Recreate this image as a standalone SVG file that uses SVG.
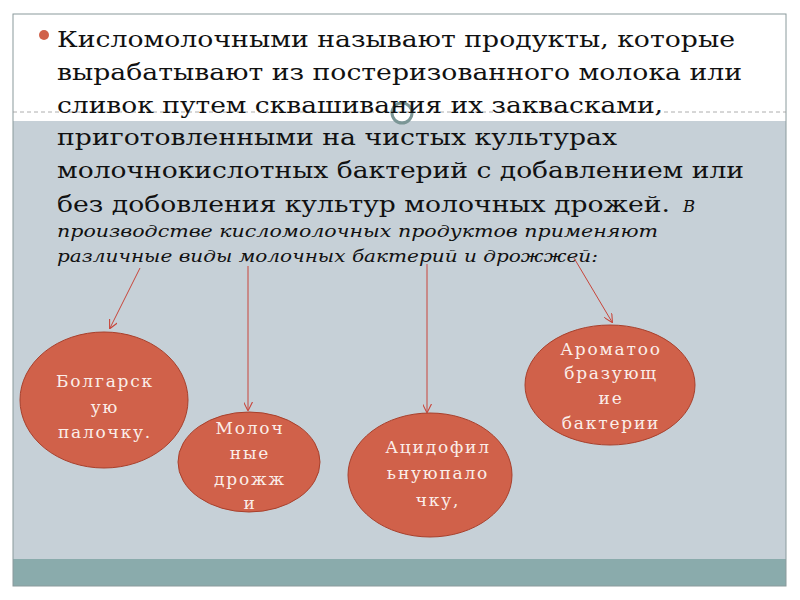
<svg xmlns="http://www.w3.org/2000/svg" width="800" height="600" viewBox="0 0 800 600">
<defs>
<style>
.main{font-family:"DejaVu Serif",serif;font-size:23px;fill:#111}
.it{font-family:"DejaVu Serif",serif;font-style:italic;font-size:16.5px;fill:#111}
.node ellipse{fill:#d0614a;stroke:#a8402c;stroke-width:1}
.node text{font-family:"DejaVu Serif",serif;font-size:17px;letter-spacing:1.8px;fill:#fbeee9;text-anchor:middle}
.conn line{stroke:#c8453a;stroke-width:1;marker-end:url(#ah)}
</style>
<marker id="ah" viewBox="0 0 10 10" refX="9" refY="5" markerWidth="9" markerHeight="9" orient="auto" markerUnits="userSpaceOnUse"><path d="M0,0 L10,5 L0,10" fill="none" stroke="#c8453a" stroke-width="1.2"/></marker>
</defs>
<rect width="800" height="600" fill="#fff"/>
<rect x="13" y="121" width="773" height="440" fill="#c6d0d7"/>
<rect x="13" y="559" width="773" height="27" fill="#8aabac"/>
<rect x="13" y="14" width="773" height="572" fill="none" stroke="#8a9a9c" stroke-width="1"/>
<line x1="13" y1="112" x2="786" y2="112" stroke="#999" stroke-dasharray="4,3" stroke-width="0.8"/>
<circle cx="402" cy="113" r="10" fill="none" stroke="#7b9696" stroke-width="3"/>
<circle cx="44" cy="35" r="5" fill="#d0614a"/>
<text class="main" x="57" y="47" textLength="678" lengthAdjust="spacingAndGlyphs">Кисломолочными называют продукты, которые</text>
<text class="main" x="57" y="80" textLength="685" lengthAdjust="spacingAndGlyphs">вырабатывают из постеризованного молока или</text>
<text class="main" x="57" y="113" textLength="606" lengthAdjust="spacingAndGlyphs">сливок путем сквашивания их заквасками,</text>
<text class="main" x="57" y="145" textLength="560" lengthAdjust="spacingAndGlyphs">приготовленными на чистых культурах</text>
<text class="main" x="57" y="178" textLength="687" lengthAdjust="spacingAndGlyphs">молочнокислотных бактерий с добавлением или</text>
<text class="main" x="57" y="212" textLength="613" lengthAdjust="spacingAndGlyphs">без добовления культур молочных дрожей.</text>
<text class="it" x="683" y="212">В</text>
<text class="it" x="57" y="237" textLength="601" lengthAdjust="spacingAndGlyphs">производстве кисломолочных продуктов применяют</text>
<text class="it" x="57" y="262" textLength="541" lengthAdjust="spacingAndGlyphs">различные виды молочных бактерий и дрожжей:</text>
<g class="conn">
<line x1="140" y1="268" x2="110" y2="328"/>
<line x1="248" y1="266" x2="248" y2="410"/>
<line x1="427" y1="264" x2="427" y2="412"/>
<line x1="574" y1="258" x2="612" y2="322"/>
</g>
<g id="n1" class="node"><ellipse cx="104" cy="400" rx="84" ry="68"/><text x="105" y="387">Болгарск</text><text x="105" y="413">ую</text><text x="105" y="438">палочку.</text></g>
<g id="n2" class="node"><ellipse cx="249" cy="462" rx="71" ry="50"/><text x="250" y="434">Молоч</text><text x="250" y="459">ные</text><text x="250" y="485">дрожж</text><text x="250" y="509">и</text></g>
<g id="n3" class="node"><ellipse cx="430" cy="475" rx="82" ry="62"/><text x="438" y="453">Ацидофил</text><text x="438" y="479">ьнуюпало</text><text x="438" y="506">чку,</text></g>
<g id="n4" class="node"><ellipse cx="610" cy="385" rx="85" ry="60"/><text x="611" y="355">Ароматоо</text><text x="611" y="379">бразующ</text><text x="611" y="404">ие</text><text x="611" y="429">бактерии</text></g>
</svg>
